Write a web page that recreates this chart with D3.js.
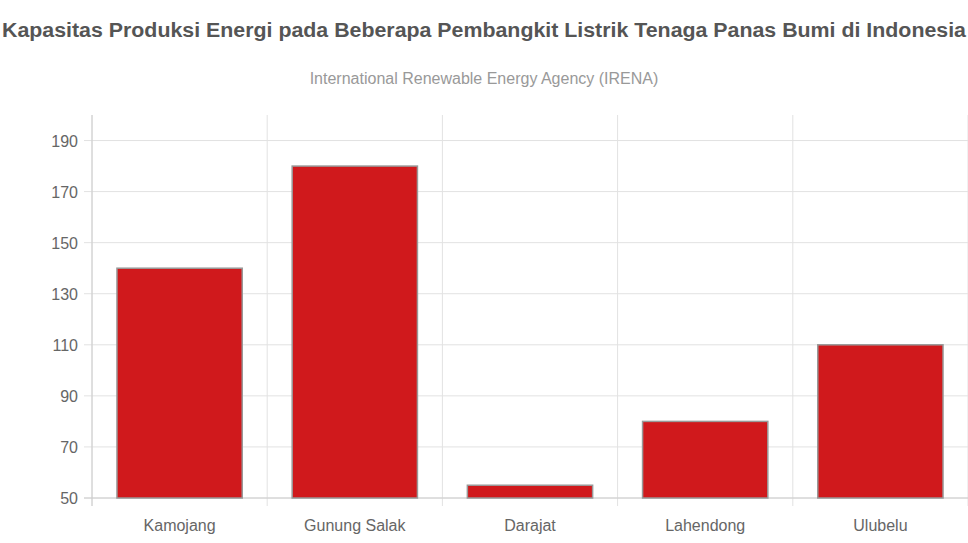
<!DOCTYPE html>
<html><head><meta charset="utf-8">
<script src="https://cdn.jsdelivr.net/npm/d3@7"></script>
<style>body{margin:0;background:#fff}</style>
</head><body>
<script>
var categories = ["Kamojang", "Gunung Salak", "Darajat", "Lahendong", "Ulubelu"]
var values = [140, 180, 55, 80, 110]
var yTicks = [50, 70, 90, 110, 130, 150, 170, 190]

var width = 968, height = 543
var pLeft = 92, pRight = 968, pTop = 115, pBottom = 498

var svg = d3.select("body").append("svg").attr("width", width).attr("height", height)
  .style("font-family", "'Liberation Sans', Arial, sans-serif")

var x = d3.scaleBand().domain(categories).range([pLeft, pRight])
var y = d3.scaleLinear().domain([50, 200]).range([pBottom, pTop])

// title and subtitle
svg.append("text").attr("x", 484).attr("y", 37).attr("text-anchor", "middle")
  .attr("textLength", 964).attr("lengthAdjust", "spacingAndGlyphs")
  .style("font-size", "20px").style("font-weight", "bold").style("fill", "#555")
  .text("Kapasitas Produksi Energi pada Beberapa Pembangkit Listrik Tenaga Panas Bumi di Indonesia")
svg.append("text").attr("x", 484).attr("y", 84).attr("text-anchor", "middle")
  .style("font-size", "16px").style("fill", "#999")
  .text("International Renewable Energy Agency (IRENA)")

// horizontal grid
svg.selectAll(".hg").data(yTicks).enter().append("line")
  .attr("x1", pLeft - 8).attr("x2", pRight).attr("y1", d => y(d)).attr("y2", d => y(d))
  .style("stroke", "#e2e2e2")
// vertical grid
var bounds = categories.map(c => x(c)).concat([pRight])
svg.selectAll(".vg").data(bounds).enter().append("line")
  .attr("x1", d => d).attr("x2", d => d).attr("y1", pTop).attr("y2", pBottom + 8)
  .style("stroke", "#e2e2e2")
svg.append("line").attr("x1", pLeft).attr("x2", pLeft).attr("y1", pTop).attr("y2", pBottom + 8).style("stroke", "#ccc")
svg.append("line").attr("x1", pLeft - 8).attr("x2", pRight).attr("y1", pBottom).attr("y2", pBottom).style("stroke", "#ccc")

// y labels
svg.selectAll(".yl").data(yTicks).enter().append("text")
  .attr("x", pLeft - 14).attr("y", d => y(d) + 6).attr("text-anchor", "end")
  .style("font-size", "16px").style("fill", "#666").text(d => d)

// bars
var bw = x.bandwidth() * 0.715
svg.selectAll(".bar").data(values).enter().append("rect")
  .attr("x", (d, i) => x(categories[i]) + (x.bandwidth() - bw) / 2)
  .attr("y", d => y(d)).attr("width", bw).attr("height", d => pBottom - y(d))
  .style("fill", "#d0191c").style("stroke", "#999").style("stroke-width", 1.5)

// x labels
svg.selectAll(".xl").data(categories).enter().append("text")
  .attr("x", d => x(d) + x.bandwidth() / 2).attr("y", 531).attr("text-anchor", "middle")
  .style("font-size", "16px").style("fill", "#666").text(d => d)
</script>
</body></html>
